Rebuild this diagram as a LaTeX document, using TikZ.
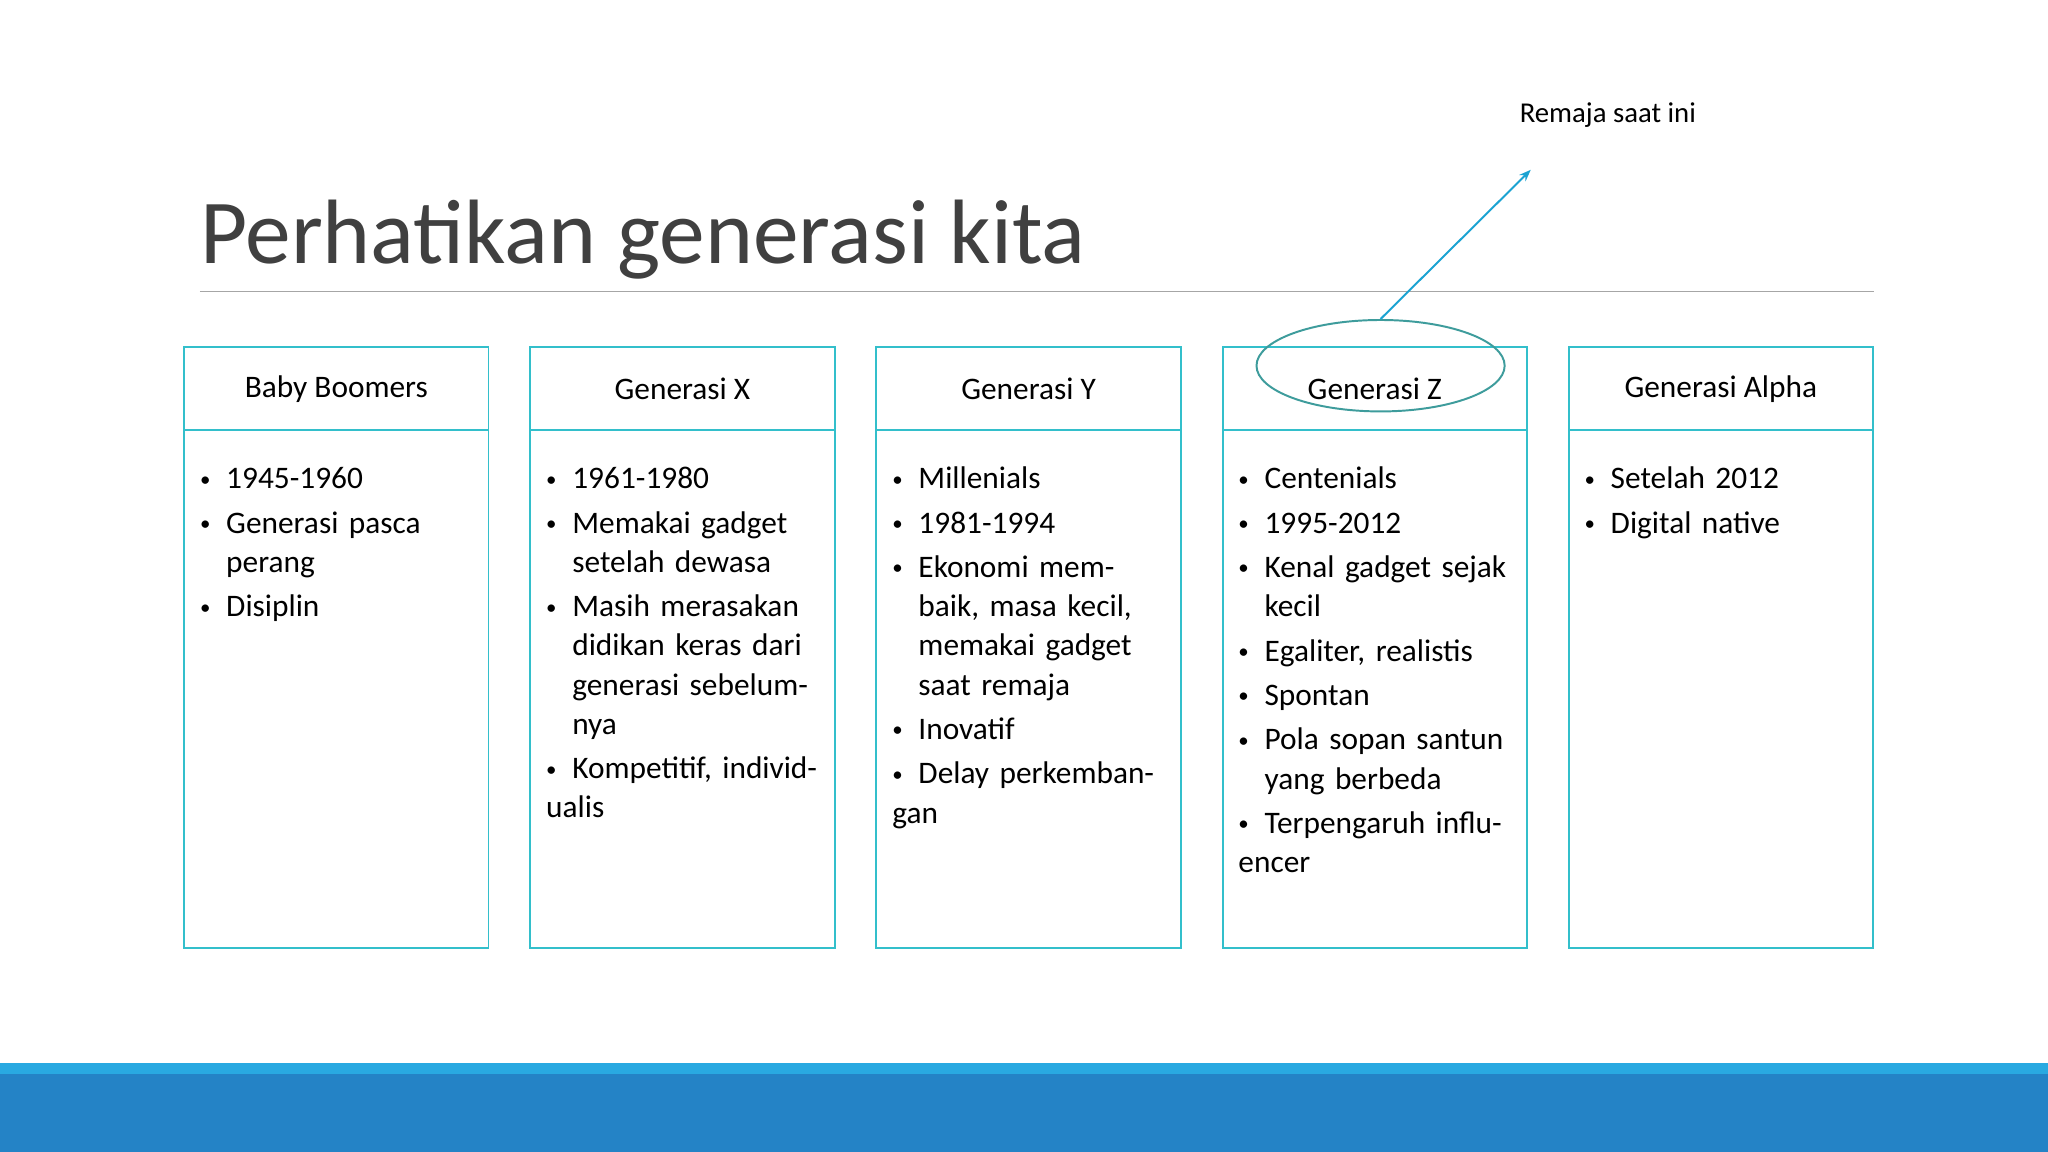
\documentclass[tikz,border=0pt]{standalone}
\usepackage{fontspec}
\usetikzlibrary{shapes.geometric,arrows.meta}
\setmainfont{Carlito}
\definecolor{teal}{HTML}{33BFCB}
\definecolor{ell}{HTML}{3E9C9C}
\definecolor{arr}{HTML}{1BA3D2}
\definecolor{lb}{HTML}{29A9E1}
\definecolor{db}{HTML}{2483C6}
\definecolor{tt}{HTML}{404040}
\newcommand{\itm}[1]{\par\hangindent=20pt\hangafter=1\noindent\makebox[20pt][l]{\raisebox{2pt}{\fontsize{16}{16}\selectfont•}}#1}
\begin{document}
\begin{tikzpicture}[x=1pt,y=-1pt,
  gbox/.style={draw=teal,line width=1.5pt},
  hdr/.style={font=\fontsize{24}{28}\selectfont,text=black},
  body/.style={anchor=north west,inner sep=0pt,text width=215pt,align=left,
    font=\fontsize{24}{30}\selectfont\setlength{\parskip}{4pt}}]
\useasboundingbox (0,0) rectangle (1568,882);
\fill[white] (0,0) rectangle (1568,882);
\fill[lb] (0,814) rectangle (1568,822);
\fill[db] (0,822) rectangle (1568,882);
\node[anchor=base west,inner sep=0pt,text=tt,font=\fontsize{70}{70}\selectfont] (title) at (153,202) {Perhatikan generasi kita};
\draw[gray!70,line width=1pt] (153,223) -- (1435,223);
\foreach \x/\n/\h in {141/a/Baby Boomers,406/b/Generasi X,671/c/Generasi Y,936/d/Generasi Z,1201/e/Generasi Alpha}{
  \draw[gbox] (\x,266) rectangle (\x+233,726);
  \draw[gbox] (\x,329) -- (\x+233,329);
  \node[hdr] (h\n) at (\x+116.5,298) {\h};
}
\node[body] (ba) at (153,340) {\itm{1945-1960}\itm{Generasi pasca perang}\itm{Disiplin}};
\node[body] (bb) at (418,340) {\itm{1961-1980}\itm{Memakai gadget setelah dewasa}\itm{Masih merasakan didikan keras dari generasi sebelumnya}\itm{Kompetitif, individualis}};
\node[body] (bc) at (683,340) {\itm{Millenials}\itm{1981-1994}\itm{Ekonomi membaik, masa kecil, memakai gadget saat remaja}\itm{Inovatif}\itm{Delay perkembangan}};
\node[body] (bd) at (948,340) {\itm{Centenials}\itm{1995-2012}\itm{Kenal gadget sejak kecil}\itm{Egaliter, realistis}\itm{Spontan}\itm{Pola sopan santun yang berbeda}\itm{Terpengaruh influencer}};
\node[body] (be) at (1213,340) {\itm{Setelah 2012}\itm{Digital native}};
\node[draw=ell,line width=1.5pt,ellipse,minimum width=190pt,minimum height=70pt,inner sep=0pt] (el) at (1057,280) {};
\node[font=\fontsize{22}{26}\selectfont] (rem) at (1231,88) {Remaja saat ini};
\coordinate (tip) at (1172,130);
\draw[arr,line width=1.5pt,-{Stealth[length=9pt]}] (el.north) -- (tip);
\end{tikzpicture}
\end{document}
